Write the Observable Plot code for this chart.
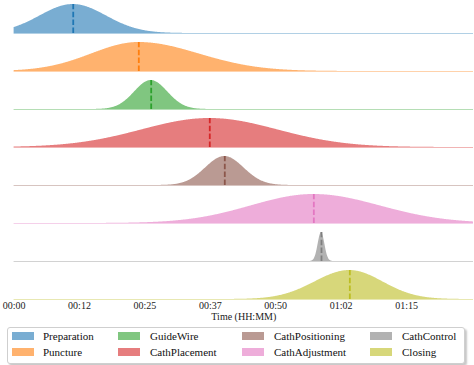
<!DOCTYPE html>
<html>
<head>
<meta charset="utf-8">
<script src="https://cdn.jsdelivr.net/npm/d3@7"></script>
<script src="https://cdn.jsdelivr.net/npm/@observablehq/plot@0.6"></script>
<style>
  body { margin: 0; background: #fff; font-family: "Liberation Serif", "DejaVu Serif", serif; }
  #wrap { position: relative; width: 474px; height: 365px; overflow: hidden; }
  #legend { position: absolute; left: 7px; top: 327px; width: 456px; height: 35px;
            border: 1px solid #cfcfcf; border-radius: 3px; background: #fff;
            box-shadow: 2px 2px 2px rgba(0,0,0,0.22); }
  .item { position: absolute; height: 14px; display: flex; align-items: center;
          font-size: 11px; color: #111; white-space: nowrap; }
  .sw { position: absolute; width: 22px; height: 8px; }
</style>
</head>
<body>
<div id="wrap"></div>
<script>
// ---- data (times in seconds) ----
const phases = ["Preparation", "Puncture", "GuideWire", "CathPlacement", "CathPositioning", "CathAdjustment", "CathControl", "Closing"];
const colors = ["#1f77b4", "#ff7f0e", "#2ca02c", "#d62728", "#8c564b", "#e377c2", "#7f7f7f", "#bcbd22"];
const meanSec = [678, 1430, 1572, 2244, 2416, 3437, 3525, 3850];
const sdLeftSec = [380, 540, 190, 780, 220, 720, 38, 400];
const sdRightSec = [380, 690, 190, 780, 220, 760, 38, 380];
const tickSec = [0, 750, 1500, 2250, 3000, 3750, 4500];
const xMaxSec = 5268;

// ---- build tables ----
const stats = phases.map((p, i) => ({phase: p, mean: meanSec[i], sl: sdLeftSec[i], sr: sdRightSec[i]}));
const curve = [];
for (const s of stats) {
  for (let t = 0; t <= xMaxSec; t += 6) {
    const sd = t < s.mean ? s.sl : s.sr;
    const z = (t - s.mean) / sd;
    curve.push({phase: s.phase, t, v: Math.exp(-0.5 * z * z)});
  }
}
const fmt = s => String(Math.floor(s / 3600)).padStart(2, "0") + ":" + String(Math.floor((s % 3600) / 60)).padStart(2, "0");

const chart = Plot.plot({
  width: 474,
  height: 322,
  marginLeft: 13.6,
  marginRight: 1,
  marginTop: 3.3,
  marginBottom: 23,
  style: {fontFamily: "'Liberation Serif', serif", fontSize: "10px", color: "#222", background: "#fff"},
  x: {domain: [0, xMaxSec]},
  y: {domain: [0, 1], axis: null},
  fy: {domain: phases, paddingInner: 0.239, paddingOuter: 0, axis: null},
  color: {domain: phases, range: colors},
  marks: [
    Plot.areaY(curve, {x: "t", y: "v", fy: "phase", fill: "phase", fillOpacity: 0.6}),
    Plot.ruleY(stats, {y: 0, fy: "phase", stroke: "phase", strokeOpacity: 0.35, strokeWidth: 1}),
    Plot.ruleX(stats, {x: "mean", y1: 0, y2: 1, fy: "phase", stroke: "phase", strokeWidth: 1.8, strokeDasharray: "5.5,2.4"}),
    Plot.axisX({ticks: tickSec, tickFormat: fmt, tickSize: 0, tickPadding: 2, label: "Time (HH:MM)",
                labelAnchor: "center", labelArrow: "none", labelOffset: 20, fontSize: 10})
  ]
});
const wrap = document.getElementById("wrap");
wrap.appendChild(chart);

// ---- legend ----
const legend = document.createElement("div");
legend.id = "legend";
wrap.appendChild(legend);
const swX = [12, 118, 242, 370];
const txX = [43, 150, 274, 402];
const rowY = [335.5, 352.3];
phases.forEach((p, i) => {
  const col = Math.floor(i / 2), row = i % 2;
  const sw = document.createElement("div");
  sw.className = "sw";
  sw.style.left = (swX[col] - 8) + "px";
  sw.style.top = (rowY[row] - 4 - 328) + "px";
  sw.style.background = colors[i];
  sw.style.opacity = 0.6;
  legend.appendChild(sw);
  const it = document.createElement("div");
  it.className = "item";
  it.style.left = (txX[col] - 8) + "px";
  it.style.top = (rowY[row] - 7 - 328) + "px";
  it.textContent = p;
  legend.appendChild(it);
});
</script>
</body>
</html>
